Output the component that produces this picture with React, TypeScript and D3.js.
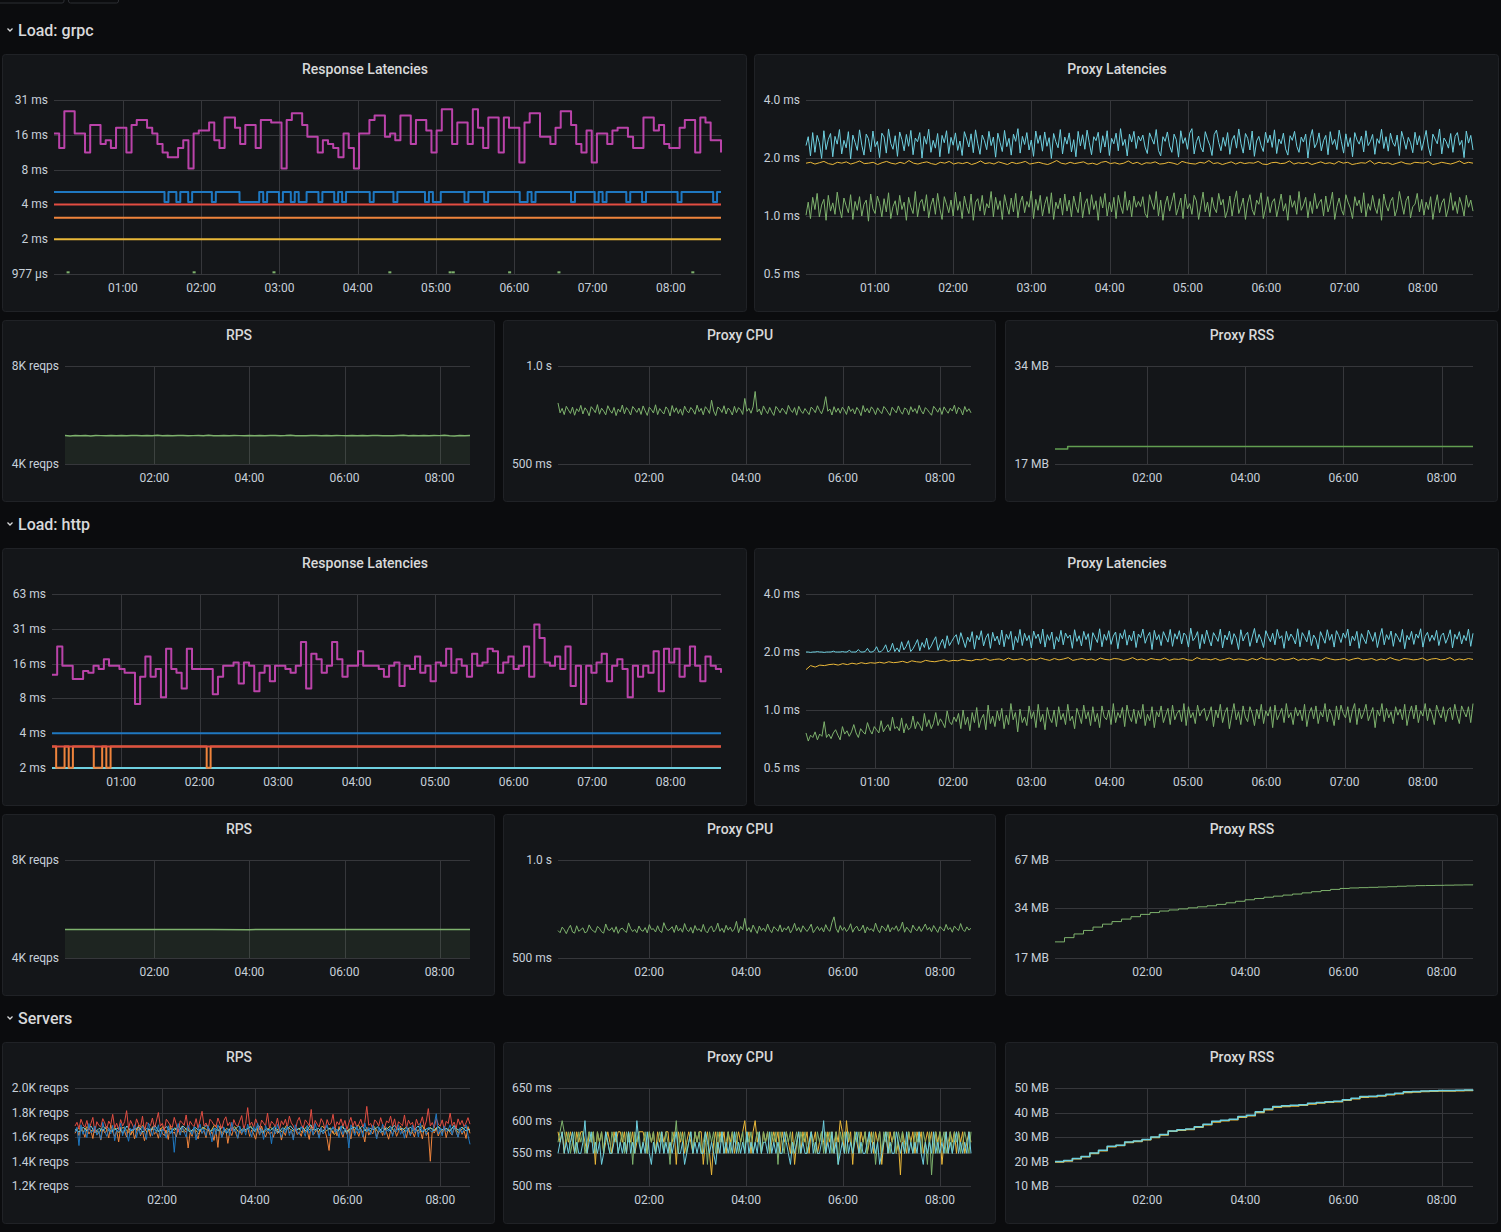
import * as React from "react";
import * as d3 from "d3";

const W = 1501, H = 1232;
const HOUR = 3600e3;
const BASE = Date.UTC(2021, 0, 1);
const T0 = BASE + 0.12 * HOUR, T1 = BASE + 8.64 * HOUR;

const PAGE_BG = "#0b0c0e", PANEL_BG = "#141619", BORDER = "#202226", GRID = "#36373b";
const TEXT = "#c7d0d9", TITLE = "#d8d9da";
const FONT = "Roboto, 'Noto Sans', sans-serif";

const MAGENTA = "#BA43A9", BLUE = "#1F78C1", RED = "#E24D42", ORANGE = "#EF843C",
  YELLOW = "#EAB839", GREEN = "#7EB26D", CYAN = "#6ED0E0", DKGREEN = "#629E51";

// ---------- axis ticks ----------
const grpcLatTicks = [0.9765625, 1.953125, 3.90625, 7.8125, 15.625, 31.25];
const grpcLatLabels = ["977 µs", "2 ms", "4 ms", "8 ms", "16 ms", "31 ms"];
const httpLatTicks = [1.953125, 3.90625, 7.8125, 15.625, 31.25, 62.5];
const httpLatLabels = ["2 ms", "4 ms", "8 ms", "16 ms", "31 ms", "63 ms"];
const proxyLatTicks = [0.5, 1, 2, 4];
const proxyLatLabels = ["0.5 ms", "1.0 ms", "2.0 ms", "4.0 ms"];
const rpsTicks = [4000, 8000];
const rpsLabels = ["4K reqps", "8K reqps"];
const cpuTicks = [500, 1000];
const cpuLabels = ["500 ms", "1.0 s"];
const rssTicksGrpc = [17, 34];
const rssLabelsGrpc = ["17 MB", "34 MB"];
const rssTicksHttp = [17, 34, 67];
const rssLabelsHttp = ["17 MB", "34 MB", "67 MB"];
const srvRpsTicks = [1200, 1400, 1600, 1800, 2000];
const srvRpsLabels = ["1.2K reqps", "1.4K reqps", "1.6K reqps", "1.8K reqps", "2.0K reqps"];
const srvCpuTicks = [500, 550, 600, 650];
const srvCpuLabels = ["500 ms", "550 ms", "600 ms", "650 ms"];
const srvRssTicks = [10, 20, 30, 40, 50];
const srvRssLabels = ["10 MB", "20 MB", "30 MB", "40 MB", "50 MB"];

// ---------- Load: grpc ----------
// response latency p99 (ms), stepped
const grpcP99 = [16, 12, 25, 25, 16, 16, 11, 19, 19, 13, 14, 12, 18, 18, 11, 19, 21, 21, 18, 16, 13, 11, 10, 10, 12, 14, 8, 16, 17, 17,
  20, 14, 12, 22, 22, 18, 13, 19, 19, 12, 21, 21, 20, 20, 8, 21, 24, 24, 19, 15, 15, 11, 14, 13, 12, 10, 16, 12, 8, 16,
  16, 21, 23, 23, 15, 16, 14, 23, 23, 13, 21, 21, 17, 11, 17, 26, 26, 13, 20, 20, 13, 26, 18, 12, 22, 22, 11, 22, 18, 18,
  9, 20, 24, 24, 15, 15, 13, 18, 25, 25, 19, 13, 11, 17, 9, 16, 16, 13, 17, 18, 18, 15, 12, 12, 22, 22, 17, 19, 13, 12,
  12, 18, 21, 21, 11, 22, 20, 14, 14, 11];
// p95 (ms), stepped
const grpcP95 = [5, 5, 5, 5, 5, 5, 5, 5, 5, 5, 5, 5, 5, 5, 5, 5, 5, 5, 5, 5, 5, 5, 5, 5, 5, 5, 5, 5, 4.1, 5,
  5, 4.1, 5, 5, 4.1, 5, 5, 5, 5, 5, 4.1, 5, 5, 5, 5, 5, 5, 4.1, 4.1, 4.1, 4.1, 4.1, 5, 4.1, 5, 5, 5, 4.1, 5, 5,
  4.1, 5, 4.1, 4.1, 5, 5, 5, 4.1, 5, 5, 5, 4.1, 5, 4.1, 5, 5, 5, 5, 5, 5, 4.1, 5, 5, 5, 5, 5, 4.1, 5, 5, 5,
  5, 5, 5, 5, 4.1, 5, 4.1, 4.1, 5, 5, 5, 5, 5, 5, 4.1, 5, 5, 5, 5, 4.1, 5, 5, 5, 5, 5, 5, 5, 5, 4.1, 4.1,
  5, 4.1, 5, 5, 5, 5, 5, 5, 5, 5, 5, 4.1, 5, 5, 5, 5, 5, 4.1, 5, 4.1, 5, 5, 5, 5, 5, 4.1, 5, 5, 5, 4.1,
  5, 5, 5, 5, 5, 5, 5, 5, 4.1, 5, 5, 5, 5, 5, 5, 5, 5, 4.1, 5, 5];
const grpcP90 = [3.9, 3.9, 3.9, 3.9];
const grpcP75 = [3.0, 3.0, 3.0, 3.0];
const grpcP50 = [1.95, 1.95, 1.95, 1.95];
const grpcMinDots: [number, number][] = [[0.3, 1.0], [1.91, 1.0], [2.93, 1.0], [4.41, 1.0], [5.18, 1.0], [5.22, 1.0], [5.94, 1.0], [6.57, 1.0], [8.28, 1.0]];

// proxy latency (1/100 ms)
const grpcProxyP99 = [232, 258, 205, 271, 214, 262, 240, 199, 277, 221, 250, 268, 203, 259, 236, 281, 210, 247, 226, 274,
  198, 263, 241, 219, 280, 233, 207, 266, 252, 215, 276, 229, 244, 201, 269, 257, 212, 283, 238, 222,
  261, 204, 273, 249, 218, 265, 230, 278, 208, 254, 243, 271, 200, 259, 236, 282, 214, 247, 225, 268,
  203, 262, 240, 277, 211, 256, 233, 270, 219, 245, 206, 274, 251, 228, 267, 213, 280, 237, 209, 263,
  246, 221, 275, 232, 257, 202, 269, 241, 216, 278, 229, 253, 207, 266, 244, 284, 212, 259, 235, 271,
  220, 248, 204, 276, 238, 262, 217, 273, 230, 255, 199, 268, 243, 226, 281, 210, 257, 236, 270, 215,
  249, 203, 275, 231, 264, 222, 279, 240, 208, 258, 246, 272, 213, 261, 228, 277, 206, 253, 237, 269,
  218, 284, 232, 250, 205, 266, 242, 275, 224, 260,
  245, 263, 228, 211, 270, 252, 236, 281, 219, 205, 258, 244, 273, 231, 214, 266, 249, 202, 277, 238,
  255, 222, 269, 284, 210, 243, 260, 227, 215, 274, 250, 233, 206, 265, 279, 241, 218, 256, 230, 271,
  209, 248, 262, 225, 283, 237, 212, 268, 253, 220, 276, 204, 245, 259, 232, 216, 272, 240, 263, 227,
  280, 211, 251, 237, 269, 223, 207, 261, 247, 275, 230, 214, 257, 242, 266, 200, 253, 281, 226, 239,
  270, 218, 246, 262, 208, 274, 235, 250, 221, 279, 243, 212, 267, 229, 255, 203, 271, 248, 236, 260,
  215, 277, 232, 244, 265, 209, 252, 238, 282, 224, 258, 217, 269, 241, 230, 263, 206, 275, 249, 222,
  256, 240, 213, 272, 234, 261, 219, 246, 278, 228, 205, 266, 251, 237, 283, 210, 254, 243, 225, 268,
  214, 259, 271, 233, 247, 201, 276, 239, 262, 220];
const grpcProxyP90 = [188, 190, 186, 189, 192, 187, 185, 190, 188, 191, 186, 189, 193, 187, 188, 190, 185, 189, 192, 188,
  186, 190, 187, 194, 188, 186, 189, 191, 187, 185, 190, 188, 192, 186, 189, 187, 190, 185, 188, 193,
  187, 189, 186, 191, 188, 185, 190, 187, 189, 192, 186, 188, 190, 187, 185, 189, 194, 188, 186, 190,
  187, 189, 191, 186, 188, 185, 190, 192, 187, 189, 186, 188, 193, 187, 190, 185, 189, 188, 191, 186,
  187, 190, 188, 185, 192, 189, 187, 186, 190, 188, 194, 187, 189, 185, 188, 191, 186, 190, 187, 189,
  188, 192, 186, 185, 189, 190, 187, 188, 193, 186, 189, 187, 190, 185, 188, 191, 187, 189, 186, 192,
  188, 190, 185, 187, 189, 188, 194, 186, 190, 187, 189, 185, 188, 191, 187, 186, 190, 189, 188, 192,
  185, 187, 190, 188, 186, 189, 193, 187, 190, 188];
const grpcProxyP50 = [101, 118, 97, 125, 108, 131, 99, 114, 122, 95, 128, 106, 117, 102, 133, 110, 98, 124, 113, 104,
  129, 96, 119, 107, 126, 100, 115, 121, 94, 130, 109, 103, 127, 116, 99, 123, 105, 132, 97, 112,
  120, 101, 128, 108, 118, 95, 125, 111, 103, 134, 99, 117, 122, 106, 129, 98, 114, 124, 102, 131,
  109, 96, 126, 115, 104, 121, 100, 133, 107, 119, 97, 127, 112, 103, 130, 95, 118, 123, 106, 128,
  101, 116, 110, 134, 99, 125, 108, 120, 96, 129, 113, 102, 124, 105, 131, 98, 117, 127, 104, 119,
  111, 135, 97, 122, 107, 128, 100, 115, 126, 103, 132, 96, 118, 109, 124, 101, 130, 106, 121, 99,
  127, 112, 104, 133, 98, 116, 123, 102, 129, 108, 120, 95, 126, 110, 131, 100, 118, 105, 125, 97,
  128, 113, 103, 134, 107, 121, 99, 127, 111, 119,
  112, 126, 103, 98, 129, 117, 108, 134, 100, 121, 95, 115, 127, 106, 119, 132, 101, 111, 124, 97,
  130, 109, 116, 102, 128, 120, 96, 113, 133, 105, 118, 99, 125, 110, 104, 131, 114, 122, 98, 107,
  127, 100, 119, 135, 103, 112, 124, 96, 117, 129, 108, 101, 121, 115, 132, 97, 110, 126, 104, 118,
  123, 99, 113, 130, 106, 116, 95, 128, 111, 120, 102, 134, 107, 114, 125, 98, 119, 103, 131, 109,
  117, 122, 100, 127, 105, 115, 133, 96, 112, 124, 108, 101, 129, 118, 110, 97, 126, 113, 121, 104,
  132, 99, 116, 107, 128, 111, 103, 123, 95, 130, 114, 106, 119, 125, 100, 109, 134, 117, 102, 120,
  127, 98, 112, 115, 131, 105, 122, 101, 118, 108, 126, 96, 113, 129, 104, 117, 123, 99, 110, 132,
  107, 119, 103, 125, 114, 100, 128, 111, 121, 106];

// rps (req/s)
const grpcRps = [4895, 4878, 4890, 4886, 4893, 4880, 4897, 4889, 4884, 4892, 4887, 4896, 4881, 4890, 4894, 4885, 4891, 4888, 4899, 4883,
  4892, 4887, 4890, 4895, 4882, 4889, 4893, 4886, 4900, 4888, 4884, 4891, 4887, 4894, 4889, 4881, 4892, 4888, 4896, 4886,
  4890, 4893, 4884, 4891, 4902, 4887, 4889, 4885, 4894, 4890, 4888, 4892, 4883, 4897, 4889, 4886, 4891, 4888, 4893, 4884,
  4890, 4895, 4887, 4889, 4882, 4892, 4898, 4886, 4890, 4888, 4894, 4885, 4891, 4889, 4901, 4887, 4880, 4893, 4888, 4890];
// proxy cpu (ms)
const grpcCpu = [770, 718, 741, 709, 752, 733, 715, 748, 706, 739, 724, 757, 712, 744, 729, 703, 750, 736, 719, 761,
  711, 742, 727, 708, 755, 731, 716, 746, 704, 738, 722, 759, 713, 745, 730, 707, 751, 737, 720, 743,
  710, 754, 728, 705, 747, 734, 717, 760, 709, 740, 725, 712, 749, 735, 702, 756, 721, 744, 714, 738,
  706, 753, 729, 718, 746, 732, 711, 758, 724, 741, 708, 750, 736, 715, 785, 727, 704, 748, 739, 720,
  755, 712, 743, 730, 707, 752, 719, 745, 733, 710, 795, 726, 741, 716, 749, 835, 722, 738, 708, 754,
  731, 714, 746, 723, 705, 751, 737, 718, 742, 729, 711, 757, 734, 720, 745, 706, 752, 728, 715, 740,
  724, 709, 748, 736, 719, 755, 731, 713, 744, 805, 726, 738, 707, 750, 721, 742, 716, 747, 733, 710,
  753, 725, 739, 712, 746, 730, 704, 756, 722, 741, 717, 749, 735, 709, 744, 727, 714, 751, 738, 720,
  705, 747, 732, 718, 754, 726, 711, 743, 736, 708, 750, 723, 740, 715, 757, 729, 712, 745, 734, 719,
  706, 752, 738, 721, 744, 710, 749, 731, 716, 742, 727, 758, 713, 746, 735, 707, 751, 724, 739, 718];
// proxy rss (MB)
const grpcRss = [18.9, 19.25, 19.25, 19.25, 19.25, 19.25, 19.25, 19.25, 19.25, 19.25, 19.25, 19.25, 19.25, 19.25, 19.25, 19.25, 19.25,
  19.25, 19.25, 19.25, 19.25, 19.25, 19.25, 19.25, 19.25, 19.25, 19.25, 19.25, 19.25, 19.25, 19.25, 19.25, 19.25, 19.25];

// ---------- Load: http ----------
const httpP99 = [12.5, 22, 15, 15, 11.5, 11.5, 13.5, 13, 15, 14, 17, 15, 15, 14, 13, 13, 7, 12, 18, 12,
  14, 8, 21, 14, 13, 9.5, 21, 14, 14, 14, 14, 8.5, 12, 15, 15, 16, 10.5, 16, 15, 9,
  13, 15, 11, 15, 15, 14, 13, 15, 24, 9.5, 19, 17, 13, 15, 24, 17, 12, 15, 15, 20,
  15, 15, 15, 14, 12, 15, 16, 10, 15, 14, 18, 13, 15, 11, 16, 15, 21, 13, 17, 15,
  12, 19, 15, 16, 21, 20, 13, 16, 18, 14, 15, 22, 12, 34, 26, 16, 15, 18, 14, 22,
  10, 15, 7, 15, 13, 16, 19, 11, 15, 17, 14, 8, 15, 12, 15, 13, 20, 9, 21, 16,
  21, 12, 15, 22, 15, 11, 18, 15, 14, 13];
const httpP95 = [3.9, 3.9, 3.9, 3.9];
// p90 change points: [hour, ms]
const httpP90: [number, number][] = [[0.12, 3.0], [0.173, 1.96], [0.28, 3.0], [0.333, 1.96], [0.386, 3.0], [0.652, 1.96],
  [0.759, 3.0], [0.812, 1.96], [0.866, 3.0], [2.09, 1.96], [2.14, 3.0], [8.64, 3.0]];
const httpP75 = [3.0, 3.0, 3.0, 3.0];
const httpP50 = [1.95, 1.95, 1.95, 1.95];

const httpProxyP99 = [200, 200, 199, 200, 200, 201, 200, 200, 199, 200, 200, 200, 202, 200, 200, 200, 201, 200, 200, 204,
  200, 200, 200, 206, 200, 200, 201, 209, 200,
  200, 203, 213, 200, 201, 207, 218, 200, 204, 222, 201, 210, 200, 226, 205, 214, 229, 201, 208, 219,
  232, 203, 224, 211, 236, 206, 215, 228, 240, 204, 220, 233, 209, 243, 216, 227, 238,
  246, 219, 252, 231, 211, 239, 226, 255, 207, 244, 231, 258, 215, 237, 249, 209, 253, 228, 242, 218,
  260, 213, 247, 233, 256, 205, 241, 224, 262, 216, 250, 229, 244, 210, 257, 235, 248, 221, 263, 212,
  246, 230, 254, 207, 240, 226, 259, 218, 251, 236, 245, 209, 261, 227, 243, 215, 256, 232, 249, 204,
  252, 238, 224, 264, 213, 247, 230, 258, 219, 242, 254, 208, 250, 234, 261, 217, 245, 228, 257, 211,
  248, 237, 263, 222, 241, 253, 206, 259, 231, 246, 216, 255, 239, 225, 262, 214, 249, 233, 258, 220,
  251, 243, 212, 266, 229, 238, 255, 208, 247, 221, 260, 234, 215, 252, 240, 227, 263, 210, 245, 231,
  257, 219, 249, 236, 206, 261, 228, 244, 253, 214, 239, 265, 223, 247, 232, 211, 258, 241, 226, 250,
  218, 262, 235, 243, 209, 256, 229, 248, 237, 220, 264, 213, 252, 240, 226, 259, 216, 245, 233, 207,
  255, 238, 222, 261, 230, 247, 212, 258, 243, 224, 251, 236, 263, 215, 242, 229, 256, 209, 249, 234,
  221, 260, 244, 227, 253, 211, 239, 265, 218, 246, 232, 257, 214, 250, 238, 225, 262, 208, 244, 231,
  256, 219, 248, 236, 264, 212, 241, 253, 227, 245, 230, 259, 216, 243, 251, 222, 238, 261, 210, 247,
  233, 255, 220, 244, 229, 263, 214, 250];
const httpProxyP90 = [162, 170, 167, 171, 170, 172, 173, 171, 174, 172, 175, 173, 176, 174, 176, 175, 177, 175, 178, 176,
  177, 179, 176, 180, 178, 177, 181, 179, 178, 180, 182, 179, 181, 180, 183, 181,
  180, 183, 182, 185, 181, 183, 184, 181, 186, 182, 183, 185, 181, 184, 182, 186, 183, 181, 185, 182,
  184, 187, 181, 183, 185, 182, 184, 181, 186, 183, 182, 185, 184, 181, 183, 187, 182, 184, 181, 185,
  183, 182, 186, 181, 184, 183, 185, 182, 181, 187, 183, 184, 182, 185, 181, 183, 186, 182, 184, 183,
  181, 185, 182, 187, 183, 184, 181, 185, 182, 183, 186, 181, 184, 182, 185, 183, 181, 187, 184, 182,
  183, 185, 181, 184, 186, 182, 183, 185, 181, 184, 182, 187, 183, 181, 185, 184, 182, 183, 186, 181,
  184, 185, 182, 183, 187, 181, 184, 182, 185, 183];
const httpProxyP50 = [76, 69, 74, 72, 77, 70, 75, 73, 87, 72, 75, 71, 76, 79, 74, 70, 82, 75, 78, 73,
  77, 84, 76, 72, 80, 77, 75, 86, 79, 75, 82, 79, 76, 88, 77, 81, 84, 78, 92, 80,
  82, 78, 91, 76, 85, 79, 81, 93, 80, 87, 83, 78, 96, 82, 89, 80, 85, 97, 83, 90, 86, 81, 99, 87, 84, 92,
  87, 96, 80, 100, 84, 92, 78, 97, 86, 103, 81, 90, 95, 79, 106, 85, 93, 82, 99, 88,
  102, 80, 94, 84, 108, 89, 97, 77, 101, 86, 92, 83, 105, 90, 98, 81, 107, 87, 95, 79,
  103, 91, 86, 100, 82, 104, 89, 96, 84, 107, 88, 93, 80, 102, 94, 85, 106, 90, 98, 83,
  104, 87, 96, 81, 105, 92, 89, 100, 84, 108, 86, 97, 91, 103, 82, 106, 93, 87, 101, 85,
  99, 90, 107, 83, 95, 88, 104, 81, 98, 92, 105, 86, 94, 102, 84, 106, 89, 96, 100, 87,
  108, 83, 104, 91, 97, 85, 106, 93, 99, 102, 88, 95, 104, 82, 100, 91, 107, 86, 97, 103,
  80, 94, 108, 89, 98, 84, 105, 92, 87, 104, 96, 83, 101, 90, 107, 85, 99, 93, 104, 81,
  106, 89, 95, 102, 86, 108, 91, 97, 84, 103, 93, 100, 88, 107, 82, 96, 103, 90, 105, 85,
  98, 92, 108, 87, 101, 94, 83, 105, 89, 106, 96, 91, 104, 86, 99, 108, 84, 102, 90, 97,
  107, 88, 95, 103, 81, 100, 93, 108, 87, 102, 91, 98, 85, 104, 94, 101, 89, 107, 83, 96,
  105, 90, 106, 86, 99, 93, 108, 88, 102, 95, 84, 106, 97, 91, 104, 87, 100, 103, 89, 107,
  94, 85, 105, 98, 92, 104, 86, 108];

const httpRps = [4890, 4890, 4891, 4890, 4890, 4889, 4890, 4890, 4890, 4891, 4890, 4890];
const httpCpu = [607, 598, 622, 611, 594, 615, 630, 601, 596, 628, 604, 611, 619, 597, 603, 632, 614, 605, 599, 625,
  617, 602, 596, 636, 611, 608, 620, 600, 624, 595, 613, 618, 606, 599, 641, 616, 603, 612, 598, 627,
  609, 604, 620, 597, 633, 612, 615, 601, 628, 606, 599, 642, 618, 607, 613, 624, 599, 631, 605, 618,
  600, 638, 611, 603, 621, 596, 629, 608, 615, 602, 634, 606, 597, 619, 626, 601, 612, 640, 604, 617,
  599, 630, 609, 622, 603, 614, 648, 598, 625, 610, 662, 605, 620, 600, 631, 612, 595, 627, 607, 618,
  603, 636, 611, 598, 624, 615, 604, 632, 601, 619, 609, 626, 597, 613, 639, 606, 621, 600, 628, 614,
  603, 617, 635, 598, 611, 625, 607, 620, 601, 633, 612, 604, 642, 669, 616, 599, 629, 608, 621, 603,
  614, 637, 600, 618, 626, 606, 611, 631, 597, 623, 609, 615, 603, 640, 612, 598, 627, 619, 605, 633,
  601, 620, 611, 628, 604, 616, 645, 600, 622, 610, 598, 631, 614, 606, 625, 603, 618, 636, 609, 621,
  602, 629, 613, 599, 624, 616, 605, 634, 611, 620, 600, 627, 615, 607, 638, 612, 603, 623, 609, 617];
const httpRss = [21.3, 22.6, 23.8, 25.0, 26.2, 27.3, 28.3, 29.3, 30.3, 31.3, 32.1, 32.8, 33.3, 33.8, 34.3, 34.8, 35.3, 36.0, 36.8, 37.6,
  38.4, 39.1, 39.8, 40.4, 41.0, 41.6, 42.3, 43.0, 43.7, 44.4, 45.0, 45.3, 45.5, 45.7, 45.9, 46.1, 46.4, 46.6, 46.8, 46.9,
  47.0, 47.1, 47.2, 47.3, 47.4];

// ---------- Servers ----------
const srvRpsRed = [1690, 1720, 1668, 1745, 1702, 1680, 1735, 1655, 1710, 1760, 1640, 1725, 1695, 1682, 1750, 1715, 1665, 1730, 1700, 1785,
  1675, 1712, 1658, 1742, 1690, 1725, 1815, 1670, 1735, 1698, 1662, 1748, 1705, 1680, 1770, 1645, 1720, 1708, 1692, 1755,
  1672, 1730, 1800, 1688, 1712, 1650, 1745, 1722, 1695, 1678, 1760, 1705, 1640, 1732, 1718, 1695, 1780, 1665, 1728, 1702,
  1685, 1750, 1670, 1738, 1810, 1690, 1715, 1660, 1745, 1725, 1698, 1680, 1755, 1708, 1670, 1735, 1765, 1692, 1720, 1650,
  1742, 1700, 1688, 1730, 1775, 1665, 1712, 1840, 1695, 1722, 1678, 1748, 1705, 1660, 1738, 1715, 1690, 1795, 1672, 1728,
  1708, 1685, 1755, 1662, 1732, 1700, 1745, 1680, 1770, 1715, 1690, 1650, 1728, 1760, 1702, 1675, 1740, 1718, 1692, 1825,
  1668, 1735, 1705, 1682, 1750, 1720, 1658, 1742, 1698, 1712, 1785, 1670, 1725, 1700, 1748, 1688, 1735, 1660, 1715, 1760,
  1692, 1730, 1675, 1705, 1745, 1682, 1720, 1850, 1695, 1710, 1665, 1740, 1722, 1690, 1758, 1700, 1678, 1732, 1715, 1770,
  1685, 1748, 1662, 1725, 1708, 1692, 1780, 1670, 1738, 1702, 1720, 1655, 1745, 1698, 1712, 1765, 1680, 1730, 1832, 1690,
  1718, 1675, 1752, 1705, 1688, 1740, 1662, 1728, 1710, 1795, 1692, 1722, 1670, 1748, 1700, 1735, 1685, 1715, 1758, 1705];
const srvRpsOrange = [1630, 1660, 1612, 1685, 1645, 1598, 1670, 1625, 1652, 1588, 1690, 1618, 1640, 1575, 1665, 1632, 1655, 1592, 1700, 1638,
  1605, 1650, 1560, 1680, 1628, 1645, 1600, 1675, 1615, 1662, 1585, 1642, 1695, 1610, 1650, 1570, 1632, 1668, 1605, 1685,
  1622, 1645, 1590, 1672, 1630, 1612, 1655, 1580, 1700, 1625, 1642, 1600, 1665, 1618, 1690, 1635, 1652, 1510, 1638, 1605,
  1675, 1622, 1585, 1660, 1630, 1648, 1595, 1680, 1615, 1642, 1572, 1655, 1515, 1690, 1602, 1635, 1662, 1548, 1645, 1612,
  1670, 1630, 1590, 1652, 1620, 1685, 1640, 1675, 1605, 1658, 1625, 1582, 1665, 1615, 1690, 1635, 1600, 1650, 1622, 1642,
  1598, 1672, 1628, 1660, 1575, 1645, 1612, 1688, 1632, 1655, 1590, 1668, 1620, 1642, 1605, 1680, 1635, 1652, 1580, 1695,
  1615, 1640, 1662, 1600, 1672, 1625, 1648, 1588, 1490, 1655, 1630, 1665, 1610, 1685, 1642, 1598, 1670, 1622, 1655, 1585,
  1692, 1628, 1645, 1605, 1668, 1635, 1560, 1680, 1615, 1650, 1625, 1672, 1598, 1640, 1662, 1612, 1688, 1635, 1582, 1652,
  1620, 1668, 1605, 1645, 1690, 1630, 1655, 1595, 1675, 1618, 1642, 1600, 1665, 1628, 1652, 1585, 1680, 1612, 1640, 1402,
  1655, 1632, 1672, 1608, 1648, 1625, 1690, 1595, 1660, 1635, 1615, 1678, 1642, 1600, 1665, 1622, 1652, 1588, 1685, 1630];
const srvRpsYellow = [1655, 1670, 1640, 1685, 1650, 1665, 1630, 1690, 1660, 1645, 1675, 1635, 1680, 1655, 1620, 1670, 1650, 1695, 1640, 1665,
  1660, 1645, 1685, 1630, 1670, 1655, 1690, 1640, 1675, 1650, 1665, 1625, 1680, 1660, 1645, 1700, 1655, 1635, 1670, 1650,
  1685, 1640, 1665, 1660, 1690, 1645, 1675, 1630, 1655, 1680, 1650, 1665, 1640, 1695, 1660, 1645, 1670, 1635, 1685, 1655,
  1665, 1640, 1690, 1650, 1675, 1620, 1660, 1680, 1645, 1670, 1655, 1700, 1640, 1665, 1650, 1685, 1635, 1675, 1660, 1690,
  1645, 1670, 1655, 1680, 1630, 1665, 1650, 1695, 1640, 1675, 1660, 1685, 1645, 1670, 1655, 1690, 1635, 1665, 1680, 1650];
const srvRpsCyan = [1665, 1640, 1680, 1650, 1690, 1635, 1670, 1655, 1685, 1645, 1660, 1675, 1630, 1690, 1650, 1665, 1680, 1640, 1670, 1655,
  1695, 1645, 1660, 1685, 1635, 1675, 1650, 1690, 1660, 1640, 1680, 1655, 1665, 1700, 1645, 1670, 1650, 1685, 1630, 1675,
  1660, 1690, 1645, 1665, 1680, 1650, 1695, 1640, 1670, 1655, 1685, 1635, 1675, 1660, 1690, 1650, 1665, 1680, 1645, 1700,
  1655, 1670, 1640, 1685, 1660, 1675, 1650, 1695, 1635, 1665, 1680, 1655, 1690, 1645, 1670, 1660, 1685, 1640, 1675, 1650,
  1695, 1660, 1670, 1645, 1680, 1655, 1690, 1640, 1665, 1675, 1650, 1685, 1660, 1670, 1645, 1695, 1655, 1680, 1650, 1665];
const srvRpsBlue = [1640, 1680, 1530, 1700, 1622, 1660, 1595, 1710, 1635, 1648, 1690, 1615, 1652, 1580, 1720, 1645, 1605, 1675, 1625, 1695,
  1570, 1660, 1640, 1712, 1610, 1685, 1630, 1565, 1670, 1650, 1700, 1595, 1665, 1620, 1690, 1642, 1580, 1715, 1655, 1610,
  1680, 1635, 1700, 1600, 1662, 1645, 1590, 1692, 1625, 1670, 1475, 1650, 1710, 1615, 1680, 1640, 1600, 1695, 1660, 1620,
  1685, 1575, 1652, 1705, 1630, 1665, 1610, 1690, 1645, 1560, 1675, 1620, 1700, 1655, 1595, 1680, 1635, 1668, 1610, 1720,
  1645, 1660, 1590, 1690, 1630, 1675, 1615, 1705, 1650, 1600, 1685, 1640, 1712, 1620, 1665, 1580, 1695, 1645, 1660, 1545,
  1680, 1625, 1702, 1655, 1598, 1672, 1635, 1690, 1612, 1660, 1575, 1700, 1642, 1620, 1685, 1650, 1605, 1695, 1630, 1668,
  1615, 1710, 1645, 1590, 1680, 1625, 1660, 1700, 1608, 1650, 1685, 1638, 1665, 1595, 1690, 1620, 1672, 1645, 1510, 1700,
  1655, 1612, 1688, 1630, 1665, 1600, 1715, 1642, 1678, 1620, 1695, 1650, 1585, 1680, 1632, 1705, 1615, 1660, 1645, 1690,
  1605, 1672, 1640, 1700, 1622, 1655, 1590, 1685, 1648, 1610, 1695, 1635, 1668, 1600, 1712, 1645, 1660, 1620, 1680, 1650,
  1640, 1705, 1790, 1625, 1672, 1610, 1690, 1645, 1660, 1700, 1618, 1685, 1650, 1598, 1675, 1632, 1665, 1700, 1612, 1540];

const srvCpuCyan = [550, 567, 583, 550, 567, 550, 567, 583, 550, 567, 550, 550, 567, 600, 550, 567, 583, 550, 567, 550,
  567, 533, 550, 583, 567, 550, 550, 567, 583, 550, 567, 550, 567, 550, 583, 550, 567, 550, 600, 567,
  550, 567, 550, 583, 550, 533, 567, 550, 567, 550, 583, 550, 567, 550, 567, 550, 567, 583, 550, 550,
  567, 533, 550, 567, 583, 550, 567, 550, 567, 550, 550, 583, 567, 550, 567, 550, 533, 567, 550, 583,
  550, 567, 550, 567, 550, 583, 550, 567, 550, 567, 550, 583, 550, 567, 550, 567, 550, 583, 550, 567,
  567, 550, 583, 550, 567, 550, 567, 550, 550, 583, 567, 550, 533, 567, 550, 567, 583, 550, 567, 550,
  550, 567, 583, 550, 567, 550, 550, 567, 600, 550, 567, 550, 583, 550, 567, 533, 550, 567, 550, 583,
  550, 567, 550, 567, 583, 550, 567, 550, 550, 567, 583, 550, 567, 550, 567, 533, 550, 567, 583, 550,
  567, 550, 550, 583, 567, 550, 567, 550, 583, 550, 567, 550, 567, 550, 583, 550, 533, 567, 550, 567,
  550, 583, 550, 567, 550, 567, 550, 583, 550, 567, 550, 567, 583, 550, 567, 550, 567, 550, 583, 550];
const srvCpuYellow = [583, 567, 583, 550, 583, 567, 583, 567, 550, 583, 567, 583, 583, 567, 550, 583, 567, 583, 533, 583,
  567, 583, 550, 567, 583, 567, 550, 583, 567, 583, 583, 567, 583, 550, 583, 567, 583, 550, 567, 583,
  583, 583, 567, 550, 583, 567, 583, 550, 583, 567, 583, 567, 583, 583, 550, 567, 583, 533, 583, 567,
  583, 550, 567, 583, 567, 550, 583, 567, 583, 583, 533, 567, 583, 550, 517, 567, 583, 550, 583, 567,
  583, 550, 583, 567, 583, 550, 567, 583, 567, 583, 600, 567, 583, 550, 583, 600, 567, 583, 550, 583,
  567, 583, 550, 567, 583, 567, 583, 550, 583, 567, 583, 567, 550, 583, 533, 567, 583, 550, 583, 567,
  583, 550, 583, 567, 583, 550, 567, 583, 567, 550, 583, 567, 583, 550, 583, 567, 600, 583, 550, 600,
  567, 583, 533, 583, 567, 550, 583, 567, 583, 550, 567, 583, 550, 583, 567, 583, 533, 567, 583, 550,
  583, 567, 583, 550, 567, 517, 583, 567, 550, 583, 567, 583, 550, 583, 567, 583, 550, 567, 583, 567,
  583, 550, 583, 567, 583, 533, 567, 583, 550, 583, 567, 583, 550, 583, 567, 583, 550, 567, 583, 567];
const srvCpuGreen = [567, 583, 600, 583, 567, 583, 550, 567, 583, 550, 583, 567, 583, 550, 567, 583, 567, 583, 550, 583,
  567, 583, 550, 583, 567, 550, 583, 567, 583, 550, 567, 583, 550, 583, 567, 583, 533, 583, 567, 583,
  550, 567, 583, 550, 583, 567, 583, 550, 567, 583, 567, 550, 583, 567, 533, 583, 567, 600, 550, 583,
  567, 583, 550, 567, 583, 550, 583, 567, 583, 550, 567, 583, 533, 583, 567, 583, 550, 583, 567, 583,
  550, 567, 583, 550, 583, 567, 583, 550, 567, 583, 550, 583, 567, 583, 550, 567, 583, 567, 550, 583,
  567, 583, 550, 583, 567, 583, 533, 583, 567, 550, 583, 567, 583, 550, 567, 583, 550, 583, 567, 583,
  550, 567, 583, 567, 550, 583, 567, 583, 550, 583, 567, 583, 550, 567, 583, 533, 583, 567, 583, 550,
  583, 567, 550, 583, 567, 583, 550, 567, 583, 550, 583, 567, 583, 533, 567, 583, 550, 583, 567, 583,
  550, 567, 583, 550, 583, 567, 583, 550, 567, 583, 567, 550, 583, 567, 583, 550, 583, 567, 533, 583,
  517, 567, 583, 550, 583, 567, 583, 550, 567, 583, 550, 583, 567, 583, 550, 567, 583, 567, 550, 583];

const srvRssCyan = [20.0, 20.4, 21.2, 22.0, 23.5, 24.6, 26.2, 26.6, 28.0, 28.4, 29.0, 30.0, 31.0, 32.5, 33.0, 33.3, 34.2, 35.2, 36.4, 36.8,
  37.2, 38.4, 38.9, 40.3, 41.4, 42.4, 42.8, 43.0, 43.2, 43.8, 44.1, 44.4, 44.6, 45.2, 45.8, 46.5, 46.6, 46.9, 47.4, 47.9,
  48.5, 48.6, 48.8, 48.9, 49.0, 49.0, 49.1, 49.2, 49.3];
const srvRssYellow = [19.8, 20.2, 21.1, 21.9, 23.3, 24.4, 26.0, 26.5, 27.8, 28.2, 28.9, 29.8, 30.8, 32.3, 32.8, 33.1, 34.0, 35.0, 36.1, 36.6,
  37.0, 38.1, 38.7, 40.0, 41.1, 42.1, 42.5, 42.7, 43.0, 43.5, 43.9, 44.2, 44.4, 45.0, 45.6, 46.2, 46.4, 46.7, 47.2, 47.7,
  48.2, 48.4, 48.6, 48.7, 48.8, 48.8, 48.9, 49.0, 49.0];

// ---------- panel model ----------
interface Series {
  values?: number[];
  pairs?: [number, number][];
  unit?: number;
  color: string;
  width: number;
  step?: boolean;
  fill?: boolean;
  dots?: boolean;
}
interface PanelSpec {
  title: string;
  x: number; y: number; w: number; h: number;
  l: number; r: number; t: number; b: number;
  log: boolean;
  ticks: number[];
  labels: string[];
  every: number;
  series: Series[];
}

const big = (x: number, y: number) => ({ x, y, w: 744, h: 257, t: y + 46, b: y + 220 });
const small = (x: number, y: number) => ({ x, y, w: 492, h: 181, t: y + 46, b: y + 144 });

const panels: PanelSpec[] = [
  {
    title: "Response Latencies", ...big(2, 54), l: 54, r: 721, log: true, ticks: grpcLatTicks, labels: grpcLatLabels, every: 1,
    series: [
      { pairs: grpcMinDots, color: GREEN, width: 2, dots: true },
      { values: grpcP50, color: YELLOW, width: 2 },
      { values: grpcP75, color: ORANGE, width: 2 },
      { values: grpcP90, color: RED, width: 2 },
      { values: grpcP95, color: BLUE, width: 2, step: true },
      { values: grpcP99, color: MAGENTA, width: 2, step: true },
    ],
  },
  {
    title: "Proxy Latencies", ...big(754, 54), l: 806, r: 1473, log: true, ticks: proxyLatTicks, labels: proxyLatLabels, every: 1,
    series: [
      { values: grpcProxyP50, unit: 0.01, color: GREEN, width: 1 },
      { values: grpcProxyP90, unit: 0.01, color: YELLOW, width: 1 },
      { values: grpcProxyP99, unit: 0.01, color: CYAN, width: 1 },
    ],
  },
  {
    title: "RPS", ...small(2, 320), l: 65, r: 470, log: true, ticks: rpsTicks, labels: rpsLabels, every: 2,
    series: [{ values: grpcRps, color: GREEN, width: 1.5, fill: true }],
  },
  {
    title: "Proxy CPU", ...small(503, 320), l: 558, r: 971, log: true, ticks: cpuTicks, labels: cpuLabels, every: 2,
    series: [{ values: grpcCpu, color: GREEN, width: 1 }],
  },
  {
    title: "Proxy RSS", ...small(1005, 320), l: 1055, r: 1473, log: true, ticks: rssTicksGrpc, labels: rssLabelsGrpc, every: 2,
    series: [{ values: grpcRss, color: DKGREEN, width: 1.5, step: true }],
  },
  {
    title: "Response Latencies", ...big(2, 548), l: 52, r: 721, log: true, ticks: httpLatTicks, labels: httpLatLabels, every: 1,
    series: [
      { values: httpP50, color: CYAN, width: 2 },
      { pairs: httpP90, color: ORANGE, width: 2, step: true },
      { values: httpP75, color: RED, width: 2 },
      { values: httpP95, color: BLUE, width: 2 },
      { values: httpP99, color: MAGENTA, width: 2, step: true },
    ],
  },
  {
    title: "Proxy Latencies", ...big(754, 548), l: 806, r: 1473, log: true, ticks: proxyLatTicks, labels: proxyLatLabels, every: 1,
    series: [
      { values: httpProxyP50, unit: 0.01, color: GREEN, width: 1 },
      { values: httpProxyP90, unit: 0.01, color: YELLOW, width: 1 },
      { values: httpProxyP99, unit: 0.01, color: CYAN, width: 1 },
    ],
  },
  {
    title: "RPS", ...small(2, 814), l: 65, r: 470, log: true, ticks: rpsTicks, labels: rpsLabels, every: 2,
    series: [{ values: httpRps, color: GREEN, width: 1.5, fill: true }],
  },
  {
    title: "Proxy CPU", ...small(503, 814), l: 558, r: 971, log: true, ticks: cpuTicks, labels: cpuLabels, every: 2,
    series: [{ values: httpCpu, color: GREEN, width: 1 }],
  },
  {
    title: "Proxy RSS", ...small(1005, 814), l: 1055, r: 1473, log: true, ticks: rssTicksHttp, labels: rssLabelsHttp, every: 2,
    series: [{ values: httpRss, color: GREEN, width: 1, step: true }],
  },
  {
    title: "RPS", ...small(2, 1042), l: 75, r: 470, log: false, ticks: srvRpsTicks, labels: srvRpsLabels, every: 2,
    series: [
      { values: srvRpsYellow, color: YELLOW, width: 1 },
      { values: srvRpsOrange, color: ORANGE, width: 1 },
      { values: srvRpsCyan, color: CYAN, width: 1 },
      { values: srvRpsRed, color: RED, width: 1 },
      { values: srvRpsBlue, color: BLUE, width: 1 },
    ],
  },
  {
    title: "Proxy CPU", ...small(503, 1042), l: 558, r: 971, log: false, ticks: srvCpuTicks, labels: srvCpuLabels, every: 2,
    series: [
      { values: srvCpuYellow, color: YELLOW, width: 1 },
      { values: srvCpuGreen, color: GREEN, width: 1 },
      { values: srvCpuCyan, color: CYAN, width: 1 },
    ],
  },
  {
    title: "Proxy RSS", ...small(1005, 1042), l: 1055, r: 1473, log: false, ticks: srvRssTicks, labels: srvRssLabels, every: 2,
    series: [
      { values: srvRssYellow, color: YELLOW, width: 1.5, step: true },
      { values: srvRssCyan, color: CYAN, width: 1.5, step: true },
    ],
  },
];

const rows = [
  { label: "Load: grpc", y: 30 },
  { label: "Load: http", y: 524 },
  { label: "Servers", y: 1018 },
];

function toPoints(s: Series): [number, number][] {
  if (s.pairs) return s.pairs.map(([h, v]) => [BASE + h * HOUR, v] as [number, number]);
  const vals = s.values || [];
  const dt = (T1 - T0) / (vals.length - 1);
  return vals.map((v, i) => [T0 + i * dt, v * (s.unit ?? 1)] as [number, number]);
}

const Panel: React.FC<{ p: PanelSpec }> = ({ p }) => {
  const x = d3.scaleUtc().domain([T0, T1]).range([p.l, p.r]);
  const dom = d3.extent(p.ticks) as [number, number];
  const y = p.log
    ? d3.scaleLog().base(2).domain(dom).range([p.b, p.t])
    : d3.scaleLinear().domain(dom).range([p.b, p.t]);
  const xticks = x.ticks(d3.utcHour.every(p.every) as d3.TimeInterval);
  const fmt = d3.utcFormat("%H:%M");

  return (
    <g>
      <rect x={p.x + 0.5} y={p.y + 0.5} width={p.w} height={p.h} rx={3} fill={PANEL_BG} stroke={BORDER} />
      <text x={p.x + p.w / 2 - 9} y={p.y + 15} textAnchor="middle" dominantBaseline="central"
        fill={TITLE} fontSize={14} fontWeight={500}>{p.title}</text>
      {p.ticks.map((t, i) => (
        <g key={"y" + i}>
          <line x1={p.l} x2={p.r} y1={Math.round(y(t)) + 0.5} y2={Math.round(y(t)) + 0.5} stroke={GRID} />
          <text x={p.l - 6} y={y(t)} textAnchor="end" dominantBaseline="central" fill={TEXT} fontSize={12}>{p.labels[i]}</text>
        </g>
      ))}
      {xticks.map((d, i) => (
        <g key={"x" + i}>
          <line x1={Math.round(x(d)) + 0.5} x2={Math.round(x(d)) + 0.5} y1={p.t} y2={p.b} stroke={GRID} />
          <text x={x(d)} y={p.b + 14} textAnchor="middle" dominantBaseline="central" fill={TEXT} fontSize={12}>{fmt(d)}</text>
        </g>
      ))}
      {p.series.map((s, i) => {
        const pts = toPoints(s);
        if (s.dots) {
          return (
            <g key={"s" + i}>
              {pts.map((d, j) => (
                <rect key={j} x={x(d[0]) - 1.5} y={y(d[1]) - 1.5} width={3} height={2} fill={s.color} />
              ))}
            </g>
          );
        }
        const curve = s.step ? d3.curveStepAfter : d3.curveLinear;
        const line = d3.line<[number, number]>().x(d => x(d[0])).y(d => y(d[1])).curve(curve);
        const area = d3.area<[number, number]>().x(d => x(d[0])).y0(p.b).y1(d => y(d[1])).curve(curve);
        return (
          <g key={"s" + i}>
            {s.fill && <path d={area(pts) || ""} fill={s.color} fillOpacity={0.1} />}
            <path d={line(pts) || ""} fill="none" stroke={s.color} strokeWidth={s.width} strokeLinejoin="round" />
          </g>
        );
      })}
    </g>
  );
};

const App: React.FC = () => (
  <svg width={W} height={H} style={{ position: "absolute", left: 0, top: 0, fontFamily: FONT }}>
    <rect width={W} height={H} fill={PAGE_BG} />
    <rect x={-4} y={-8} width={68} height={11} rx={2} fill="none" stroke="#2c2e33" />
    <rect x={68.5} y={-8} width={50} height={11} rx={2} fill="none" stroke="#2c2e33" />
    {rows.map(r => (
      <g key={r.label}>
        <path d={`M7.5 ${r.y - 1.5} L10 ${r.y + 1} L12.5 ${r.y - 1.5}`} fill="none" stroke={TITLE} strokeWidth={1.3} />
        <text x={18} y={r.y} dominantBaseline="central" fill={TITLE} fontSize={16} fontWeight={500}>{r.label}</text>
      </g>
    ))}
    {panels.map((p, i) => <Panel key={i} p={p} />)}
  </svg>
);

export default App;
